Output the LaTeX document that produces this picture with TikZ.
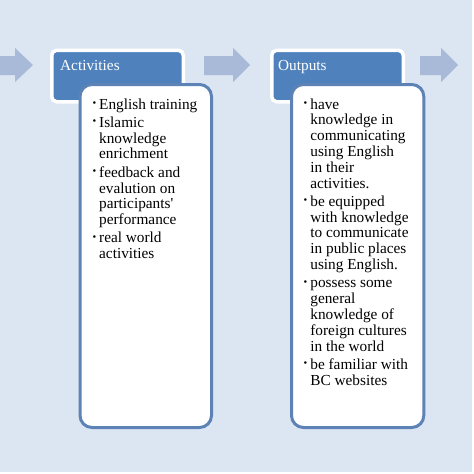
\documentclass[tikz,border=0pt]{standalone}
\usepackage{fontspec}
\setmainfont{Liberation Serif}
\usepackage{tikz}
\definecolor{slidebg}{RGB}{220,230,242}
\definecolor{headblue}{RGB}{79,129,189}
\definecolor{bodyline}{RGB}{92,130,182}
\definecolor{flowgray}{RGB}{168,186,216}
\newcommand{\dotmark}{\raisebox{2.6pt}{\fontsize{10.5}{10.5}\selectfont\textbullet}}

\begin{document}
\begin{tikzpicture}[x=1pt, y=-1pt,
	headbox/.style={draw=white, line width=3.5pt, fill=headblue, rounded corners=5pt, inner sep=0pt, minimum width=131.5pt, minimum height=51.5pt, anchor=north west},
	bodybox/.style={draw=bodyline, line width=3pt, fill=white, rounded corners=12pt, inner sep=0pt, minimum height=343pt, anchor=north west},
	headtext/.style={text=white, inner sep=0pt, anchor=base west, font=\fontsize{15.3}{15.8}\selectfont},
	listtext/.style={text=black, inner sep=0pt, anchor=base west, font=\fontsize{15.3}{15.8}\selectfont}]
				\useasboundingbox (0,0) rectangle (474,474);
				\fill[white] (0,0) rectangle (474,474);
				\fill[slidebg] (0,0) rectangle (472,472);
				\foreach \s/\h/\t in {-5/15/33, 204/233/250, 420/441/458}
					\fill[flowgray] (\s,56) -- (\h,56) -- (\h,48) -- (\t,65) -- (\h,82) -- (\h,75) -- (\s,75) -- cycle;
				% activities
				\node[headbox] (acthead) at (50,48.5) {};
				\node[bodybox, minimum width=131.5pt] (actbody) at (78.5,83) {};
				\node[headtext] (acttitle) at (60,70) {Activities};
				\node[listtext] (actlist) at (92.3,109) {\begin{tabular}[t]{@{}l@{\hspace{3pt}}l@{}}
					\dotmark & English training\\[2.5pt]
					\dotmark & Islamic\\ & knowledge\\ & enrichment\\[2.5pt]
					\dotmark & feedback and\\ & evalution on\\ & participants\textquotesingle\\ & performance\\[2.5pt]
					\dotmark & real world\\ & activities
				\end{tabular}};
				% outputs
				\node[headbox] (outhead) at (270,48.5) {};
				\node[bodybox, minimum width=132.3pt] (outbody) at (290,83) {};
				\node[headtext] (outtitle) at (278,70) {Outputs};
				\node[listtext] (outlist) at (303.5,109) {\begin{tabular}[t]{@{}l@{\hspace{3pt}}l@{}}
					\dotmark & have\\ & knowledge in\\ & communicating\\ & using English\\ & in their\\ & activities.\\[2.5pt]
					\dotmark & be equipped\\ & with knowledge\\ & to communicate\\ & in public places\\ & using English.\\[2.5pt]
					\dotmark & possess some\\ & general\\ & knowledge of\\ & foreign cultures\\ & in the world\\[2.5pt]
					\dotmark & be familiar with\\ & BC websites
				\end{tabular}};
			\end{tikzpicture}
\end{document}
